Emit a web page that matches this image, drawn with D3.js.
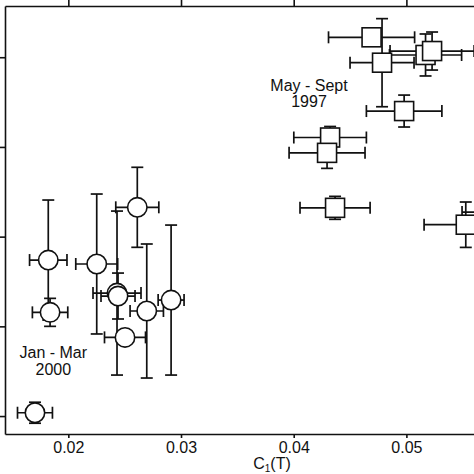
<!DOCTYPE html>
<html>
<head>
<meta charset="utf-8">
<script src="https://d3js.org/d3.v7.min.js"></script>
<style>
body { margin: 0; background: white; }
svg { display: block; font-family: "Liberation Sans", Arial, sans-serif; }
.axis path, .axis line { stroke: #111; stroke-width: 1.6px; }
.axis text { font-size: 16px; fill: #111; font-family: "Liberation Sans", Arial, sans-serif; }
</style>
</head>
<body>
<svg width="474" height="474"></svg>
<script>
// Jan - Mar 2000 (circles)
var janX    = [0.01822, 0.01838, 0.02612, 0.02252, 0.02432, 0.02441, 0.02503, 0.02696, 0.02912, 0.01704];
var janXErr = [0.00166, 0.00157, 0.00191, 0.00186, 0.00213, 0.00151, 0.00182, 0.00148, 0.00115, 0.00155];
var janY    = [2.739, 2.156, 3.327, 2.695, 2.371, 2.338, 1.877, 2.171, 2.293, 1.037];
var janYErr = [0.669, 0.156, 0.446, 0.780, 0.914, 0.256, 0.08, 0.747, 0.836, 0.117];

// May - Sept 1997 (squares)
var mayX    = [0.04691, 0.04784, 0.04980, 0.05170, 0.05228, 0.04323, 0.04296, 0.04367, 0.05743, 0.05527];
var mayXErr = [0.00382, 0.00284, 0.00335, 0.00320, 0.00373, 0.00322, 0.00337, 0.00311, 0.00249, 0.00370];
var mayY    = [5.222, 4.939, 4.400, 5.025, 5.069, 4.105, 3.934, 3.321, 3.274, 3.133];
var mayYErr = [0.056, 0.491, 0.178, 0.234, 0.212, 0.123, 0.173, 0.128, 0.089, 0.253];

var xTicks = [0.02, 0.03, 0.04, 0.05];
var yTicks = [1, 2, 3, 4, 5];

var svg = d3.select("svg");
var plotLeft = 5, plotRight = 474, plotTop = 6, plotBottom = 434;
var x = d3.scaleLinear().domain([0.01438, 0.0560]).range([plotLeft, plotRight]);
var y = d3.scaleLinear().domain([0.8, 5.571]).range([plotBottom, plotTop]);
var cap = 6;

function toRows(xs, xe, ys, ye) {
  return xs.map(function(d, i) { return {x: d, xe: xe[i], y: ys[i], ye: ye[i]}; });
}
var jan = toRows(janX, janXErr, janY, janYErr);
var may = toRows(mayX, mayXErr, mayY, mayYErr);

function errorBars(data) {
  var g = svg.append("g").attr("stroke", "#111").attr("stroke-width", 1.7).attr("fill", "none");
  data.forEach(function(d) {
    var cx = x(d.x), cy = y(d.y);
    var x0 = x(d.x - d.xe), x1 = x(d.x + d.xe);
    var y0 = y(d.y - d.ye), y1 = y(d.y + d.ye);
    g.append("line").attr("x1", x0).attr("x2", x1).attr("y1", cy).attr("y2", cy);
    g.append("line").attr("x1", x0).attr("x2", x0).attr("y1", cy - cap).attr("y2", cy + cap);
    g.append("line").attr("x1", x1).attr("x2", x1).attr("y1", cy - cap).attr("y2", cy + cap);
    g.append("line").attr("x1", cx).attr("x2", cx).attr("y1", y0).attr("y2", y1);
    g.append("line").attr("x1", cx - cap).attr("x2", cx + cap).attr("y1", y0).attr("y2", y0);
    g.append("line").attr("x1", cx - cap).attr("x2", cx + cap).attr("y1", y1).attr("y2", y1);
  });
}

errorBars(jan);
svg.append("g").selectAll("circle")
  .data(jan)
  .enter()
  .append("circle")
  .attr("cx", function(d) { return x(d.x); })
  .attr("cy", function(d) { return y(d.y); })
  .attr("r", 9.7)
  .attr("fill", "white")
  .attr("stroke", "#111")
  .attr("stroke-width", 1.6);

errorBars(may);
svg.append("g").selectAll("rect")
  .data(may)
  .enter()
  .append("rect")
  .attr("x", function(d) { return x(d.x) - 9.5; })
  .attr("y", function(d) { return y(d.y) - 9.5; })
  .attr("width", 19)
  .attr("height", 19)
  .attr("fill", "white")
  .attr("stroke", "#111")
  .attr("stroke-width", 1.6);

// axes
svg.append("g")
  .attr("class", "axis")
  .attr("transform", "translate(0," + plotBottom + ")")
  .call(d3.axisBottom(x).tickValues(xTicks).tickSize(4).tickSizeOuter(0).tickPadding(4).tickFormat(d3.format(".2f")));
svg.append("g")
  .attr("class", "axis")
  .attr("transform", "translate(0," + plotTop + ")")
  .call(d3.axisTop(x).tickValues(xTicks).tickSize(6).tickSizeOuter(0).tickFormat(""));
svg.append("g")
  .attr("class", "axis")
  .attr("transform", "translate(" + plotLeft + ",0)")
  .call(d3.axisLeft(y).tickValues(yTicks).tickSize(5).tickSizeOuter(0).tickFormat(""));

// axis label
var xl = svg.append("text")
  .attr("x", 272)
  .attr("y", 469)
  .attr("text-anchor", "middle")
  .style("font-size", "16px")
  .attr("fill", "#111");
xl.append("tspan").text("C");
xl.append("tspan").attr("dy", 3).style("font-size", "10px").text("1");
xl.append("tspan").attr("dy", -3).text("(T)");

// group labels
function label(tx, ty, lines) {
  lines.forEach(function(s, i) {
    svg.append("text")
      .attr("x", tx)
      .attr("y", ty + i * 16.3)
      .attr("text-anchor", "middle")
      .style("font-size", "16px")
      .attr("fill", "#111")
      .text(s);
  });
}
label(309, 90.7, ["May - Sept", "1997"]);
label(53.3, 358.3, ["Jan - Mar", "2000"]);
</script>
</body>
</html>
